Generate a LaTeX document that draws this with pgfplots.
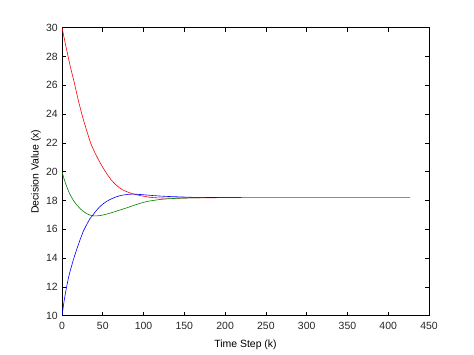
\documentclass[border=0pt]{standalone}
\usepackage{pgfplots}
\pgfplotsset{compat=1.18}
\usepackage{fontspec}
\setmainfont{Liberation Sans}
\definecolor{mred}{rgb}{1,0,0}
\definecolor{mblue}{rgb}{0,0,1}
\definecolor{mgreen}{rgb}{0,0.5,0}
\begin{document}
\begin{tikzpicture}
\useasboundingbox (-62bp,-39.3bp) rectangle (412bp,315.7bp);
\begin{axis}[
  at={(0,0)}, anchor=south west,
  scale only axis, width=367bp, height=288bp,
  xmin=0, xmax=450, ymin=10, ymax=30,
  xtick={0,50,...,450}, ytick={10,12,...,30},
  tick align=inside, major tick length=4bp,
  axis line style={black, line width=0.6pt},
  every tick/.style={black, line width=0.6pt},
  font=\fontsize{10.5}{12}\selectfont,
  /pgf/number format/assume math mode=true,
  xticklabel style={anchor=north, inner sep=0pt, yshift=-6bp, text=black!85},
  yticklabel style={anchor=east, inner sep=0pt, xshift=-4bp, text=black!85},
  xlabel={Time Step (k)}, ylabel={Decision Value (x)},
  xlabel style={at={(axis description cs:0.5,-0.112)}, anchor=base, inner sep=0pt},
  ylabel style={at={(axis description cs:-0.064,0.5)}, anchor=base, inner sep=0pt},
  clip=true,
]
\addplot[mred, line width=0.6pt] coordinates {
(0,30) (5,28.65) (10,27.35) (15,26.2) (20,24.95) (25,23.85) (30,22.9) (35,22.0)
(40,21.35) (45,20.8) (50,20.3) (55,19.85) (60,19.45) (65,19.15) (70,18.9)
(75,18.72) (80,18.6) (85,18.5) (90,18.42) (95,18.35) (100,18.3) (108,18.22)
(115,18.19) (125,18.17) (140,18.17) (160,18.18) (200,18.2) (260,18.2) (340,18.2) (427,18.2)
};
\addplot[mgreen, line width=0.6pt] coordinates {
(0,20) (2,19.6) (4,19.25) (6,18.93) (8,18.65) (10,18.4) (14,18.0) (18,17.7)
(22,17.45) (26,17.25) (30,17.1) (34,16.99) (38,16.94) (42,16.93) (46,16.95)
(50,16.99) (55,17.06) (60,17.14) (65,17.23) (70,17.32) (75,17.41) (80,17.5)
(85,17.6) (90,17.7) (95,17.79) (100,17.87) (105,17.94) (110,17.99) (115,18.03)
(120,18.07) (130,18.12) (140,18.15) (150,18.17) (160,18.19) (180,18.2) (220,18.2)
};
\addplot[mblue, line width=0.6pt] coordinates {
(0,10) (2,10.8) (4,11.5) (6,12.1) (8,12.65) (10,13.1) (14,13.9) (18,14.6)
(22,15.25) (26,15.85) (30,16.3) (34,16.72) (38,17.0) (42,17.3) (46,17.55)
(50,17.75) (55,17.95) (60,18.1) (65,18.22) (70,18.32) (75,18.38) (80,18.42)
(85,18.44) (90,18.44) (95,18.42) (100,18.4) (110,18.35) (120,18.31) (130,18.28)
(140,18.26) (150,18.24) (160,18.22) (180,18.21) (200,18.2) (220,18.2)
};
\end{axis}
\end{tikzpicture}
\end{document}
